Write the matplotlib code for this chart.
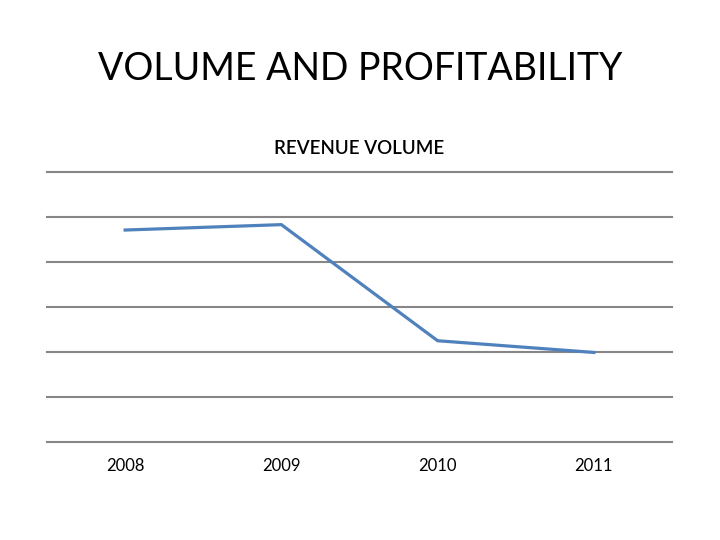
import numpy as np
import matplotlib
matplotlib.use("Agg")
import matplotlib.pyplot as plt

# datos del grafico
years = ["2008", "2009", "2010", "2011"]
revenue = [4.71, 4.83, 2.25, 1.99]

plt.rcParams['font.family'] = ['Lato', 'DejaVu Sans']

fig = plt.figure(figsize=(7.2, 5.4), dpi=100)
fig.text(0.5, 0.872, "VOLUME AND PROFITABILITY", ha="center", va="center", fontsize=27)

ax = fig.add_axes([0.0653, 0.1815, 0.868, 0.5])
x = np.arange(len(years))
ax.plot(x, revenue, color="#4F81BD", linewidth=2.3, solid_joinstyle="miter")

ax.set_xlim(-0.5, len(years) - 0.5)
ax.set_ylim(0, 6)
ax.set_yticks(range(0, 7))
ax.yaxis.grid(True, color="#868686", linewidth=1.5)
for gl in ax.get_ygridlines():
    gl.set_clip_on(False)
ax.set_axisbelow(True)
ax.tick_params(axis="y", left=False, labelleft=False)
ax.tick_params(axis="x", bottom=False, labelsize=12, pad=8)
ax.set_xticks(x)
ax.set_xticklabels(years)
for s in ax.spines.values():
    s.set_visible(False)

ax.set_title("REVENUE VOLUME", fontsize=13.5, fontweight="semibold", pad=13)

fig.savefig("out.png", dpi=100)
